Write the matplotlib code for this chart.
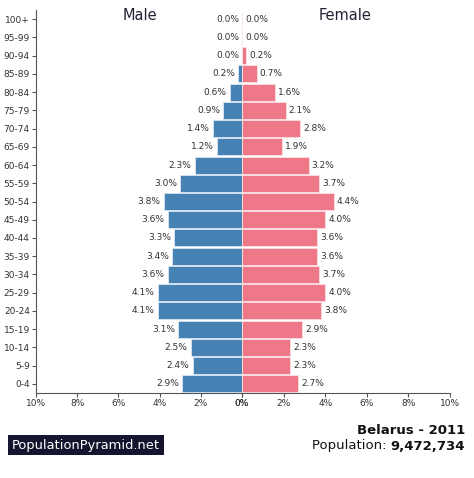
import matplotlib
matplotlib.use("Agg")
import matplotlib.pyplot as plt

age_groups = ["0-4", "5-9", "10-14", "15-19", "20-24", "25-29", "30-34", "35-39",
              "40-44", "45-49", "50-54", "55-59", "60-64", "65-69", "70-74", "75-79",
              "80-84", "85-89", "90-94", "95-99", "100+"]
male = [2.9, 2.4, 2.5, 3.1, 4.1, 4.1, 3.6, 3.4, 3.3, 3.6, 3.8, 3.0, 2.3, 1.2, 1.4, 0.9,
        0.6, 0.2, 0.0, 0.0, 0.0]
female = [2.7, 2.3, 2.3, 2.9, 3.8, 4.0, 3.7, 3.6, 3.6, 4.0, 4.4, 3.7, 3.2, 1.9, 2.8, 2.1,
          1.6, 0.7, 0.2, 0.0, 0.0]
x_ticks = [0, 2, 4, 6, 8, 10]
x_tick_labels = ["0%", "2%", "4%", "6%", "8%", "10%"]
country_year = "Belarus - 2011"
population = "9,472,734"

male_color = "#4682B4"
female_color = "#EE7788"
text_color = "#333333"
spine_color = "#555555"

fig = plt.figure(figsize=(4.74, 4.78), dpi=100)
fig.patch.set_facecolor("white")

axL = fig.add_axes([36/474, 1-393/478, 206/474, 383/478])
axR = fig.add_axes([242/474, 1-393/478, 208/474, 383/478])

y = list(range(len(age_groups)))

axL.barh(y, male, height=0.93, color=male_color, edgecolor="#d8e6f2", linewidth=0.6)
axR.barh(y, female, height=0.93, color=female_color, edgecolor="#fbe0e4", linewidth=0.6)

axL.set_xlim(10, 0)
axR.set_xlim(0, 10)
for ax in (axL, axR):
    ax.set_ylim(-0.5, len(age_groups) - 0.5)
    ax.set_xticks(x_ticks)
    ax.set_xticklabels(x_tick_labels, fontsize=6.5, color=text_color)
    ax.spines["top"].set_visible(False)
    ax.spines["right"].set_visible(False)
    ax.spines["bottom"].set_color(spine_color)
    ax.tick_params(axis="x", length=3, width=0.8, color=spine_color, pad=1.5)
    ax.set_facecolor("none")

axL.spines["left"].set_color(spine_color)
axL.set_yticks(y)
axL.set_yticklabels(age_groups, fontsize=6.5, color=text_color)
axL.tick_params(axis="y", length=3, width=0.8, color=spine_color, pad=1.5)

axR.spines["left"].set_visible(False)
axR.set_yticks([])

for yi, v in zip(y, male):
    axL.text(v + 0.15, yi, f"{v:.1f}%", ha="right", va="center", fontsize=6.5, color=text_color)
for yi, v in zip(y, female):
    axR.text(v + 0.15, yi, f"{v:.1f}%", ha="left", va="center", fontsize=6.5, color=text_color)

fig.text(140/474, 1-15/478, "Male", ha="center", va="center", fontsize=10.5, color="#222233")
fig.text(345/474, 1-15/478, "Female", ha="center", va="center", fontsize=10.5, color="#222233")

fig.text(12/474, 1-445/478, "PopulationPyramid.net", ha="left", va="center", fontsize=9.4,
         color="white",
         bbox=dict(boxstyle="square,pad=0.3", facecolor="#151530", edgecolor="none"))

fig.text(465/474, 1-430/478, country_year, ha="right", va="center", fontsize=9.5,
         fontweight="bold", color="#111111")
t1 = fig.text(465/474, 1-446/478, population, ha="right", va="center", fontsize=9.5,
              fontweight="bold", color="#111111")
fig.canvas.draw()
bb = t1.get_window_extent()
fig.text(bb.x0 / fig.bbox.width, 1-446/478, "Population: ", ha="right", va="center",
         fontsize=9.5, color="#111111")

fig.savefig("out.png", dpi=100)
